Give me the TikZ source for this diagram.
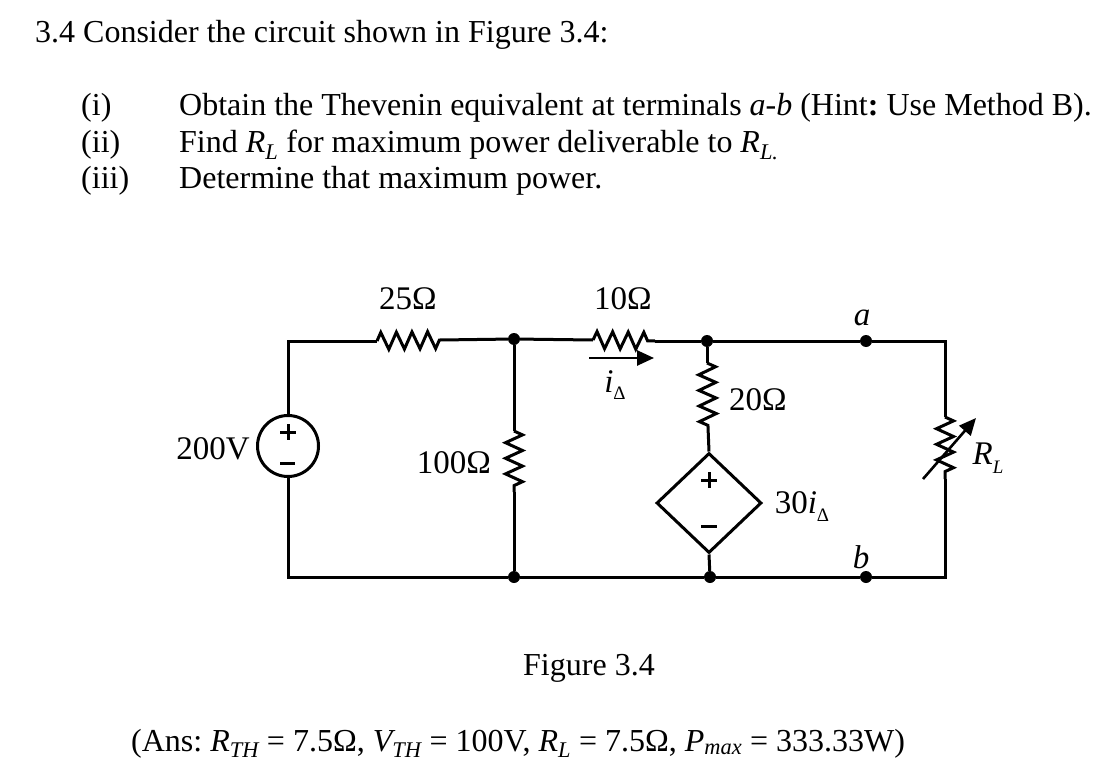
\documentclass[tikz,border=0pt]{standalone}
\usepackage{fontspec}
\setmainfont{Liberation Serif}
\usetikzlibrary{decorations.pathmorphing,arrows.meta,shapes.geometric}
\tikzset{
  wire/.style={line width=3pt,line join=miter},
  res/.style={line width=3pt,decorate,decoration={zigzag,segment length=15.6pt,amplitude=8.5pt,pre length=0pt,post length=0pt}},
  dot/.style={circle,fill=black,inner sep=0pt,minimum size=12pt},
  txt/.style={anchor=base west,inner sep=0pt,font=\fontsize{32}{32}\selectfont\frenchspacing},
  lab/.style={anchor=base,inner sep=0pt,font=\fontsize{33}{32}\selectfont},
  arr/.style={line width=2.6pt,-{Triangle[length=17pt,width=15pt]}}
}
\begin{document}
\begin{tikzpicture}[x=1pt,y=-1pt]
\useasboundingbox (0,0) rectangle (1100,762);
\fill[white] (0,0) rectangle (1100,762);
% text
\node[txt] (title) at (35,43) {3.4 Consider the circuit shown in Figure 3.4:};
\node[txt] (i1) at (81,116) {(i)};
\node[txt] (i2) at (81,153) {(ii)};
\node[txt] (i3) at (81,189) {(iii)};
\node[txt] (t1) at (179,116) {Obtain the Thevenin equivalent at terminals \textit{a-b} (Hint\textbf{:} Use Method B).};
\node[txt] (t2) at (179,153) {Find \textit{R\textsubscript{L}} for maximum power deliverable to \textit{R\textsubscript{L.}}};
\node[txt] (t3) at (179,189) {Determine that maximum power.};
\node[txt] (fig) at (523,675) {Figure 3.4};
\node[txt] (ans) at (131,751) {(Ans: \textit{R\textsubscript{TH}} = 7.5Ω, \textit{V\textsubscript{TH}} = 100V, \textit{R\textsubscript{L}} = 7.5Ω, \textit{P\textsubscript{max}} = 333.33W)};
% coordinates
\coordinate (tl) at (288,341);
\coordinate (bl) at (288,577);
\coordinate (r1a) at (377,341);
\coordinate (r1b) at (440,340);
\node[dot] (n1) at (514,339) {};
\node[dot] (n2) at (514,577) {};
\coordinate (r2a) at (514,431);
\coordinate (r2b) at (514,492);
\coordinate (r3a) at (593,340);
\coordinate (r3b) at (655,341);
\node[dot] (n3) at (707,341) {};
\node[dot] (n4) at (710,577) {};
\coordinate (r4a) at (707,363);
\coordinate (r4b) at (708,427);
\node[dot] (na) at (866,341) {};
\node[dot] (nb) at (866,577) {};
\coordinate (tr) at (945,341);
\coordinate (br) at (945,577);
\coordinate (r5a) at (945,417);
\coordinate (r5b) at (945,479);
\node[circle,draw,line width=3pt,minimum size=61pt,inner sep=0pt] (vs) at (288,446) {};
\node[diamond,draw,line width=3pt,minimum width=105pt,minimum height=100pt,inner sep=0pt] (ds) at (709,503) {};
% wires
\draw[wire] (vs.north) -- (tl) -- (r1a);
\draw[res] (r1a) -- (r1b);
\draw[wire] (r1b) -- (n1) -- (r3a);
\draw[res] (r3a) -- (r3b);
\draw[wire] (r3b) -- (n3) -- (na) -- (tr) -- (r5a);
\draw[res] (r5a) -- (r5b);
\draw[wire] (r5b) -- (br) -- (nb) -- (n4) -- (n2) -- (bl) -- (vs.south);
\draw[wire] (n1) -- (r2a);
\draw[res] (r2a) -- (r2b);
\draw[wire] (r2b) -- (n2);
\draw[wire] (n3) -- (r4a);
\draw[res] (r4a) -- (r4b);
\draw[wire] (r4b) -- (ds.north);
\draw[wire] (ds.south) -- (n4);
% arrows
\coordinate (ia) at (589,358);
\coordinate (ib) at (654,358);
\draw[arr] (ia) -- (ib);
\coordinate (ra) at (923,479);
\coordinate (rb) at (976,418);
\draw[arr] (ra) -- (rb);
% signs
\draw[line width=3pt] (280,432) -- (296,432) (288,424) -- (288,440);
\draw[line width=3pt] (280,463) -- (295,463);
\draw[line width=3pt] (701,480) -- (717,480) (709,472) -- (709,488);
\draw[line width=3pt] (701,526) -- (717,526);
% labels
\node[lab] (l25) at (408,309) {25Ω};
\node[lab] (l10) at (623,309) {10Ω};
\node[lab] (l20) at (758,410) {20Ω};
\node[lab] (l100) at (454,473) {100Ω};
\node[lab] (l200) at (213,459) {200V};
\node[lab] (l30) at (802,513) {30\textit{i}\raisebox{-8pt}{\fontsize{19}{19}\selectfont Δ}};
\node[lab] (lid) at (615,392) {\textit{i}\raisebox{-7pt}{\fontsize{19}{19}\selectfont Δ}};
\node[lab] (la) at (862,325) {\textit{a}};
\node[lab] (lb) at (861,568) {\textit{b}};
\node[lab] (lrl) at (988,464) {\textit{R}\raisebox{-9pt}{\fontsize{19}{19}\selectfont\textit{L}}};
\end{tikzpicture}
\end{document}
